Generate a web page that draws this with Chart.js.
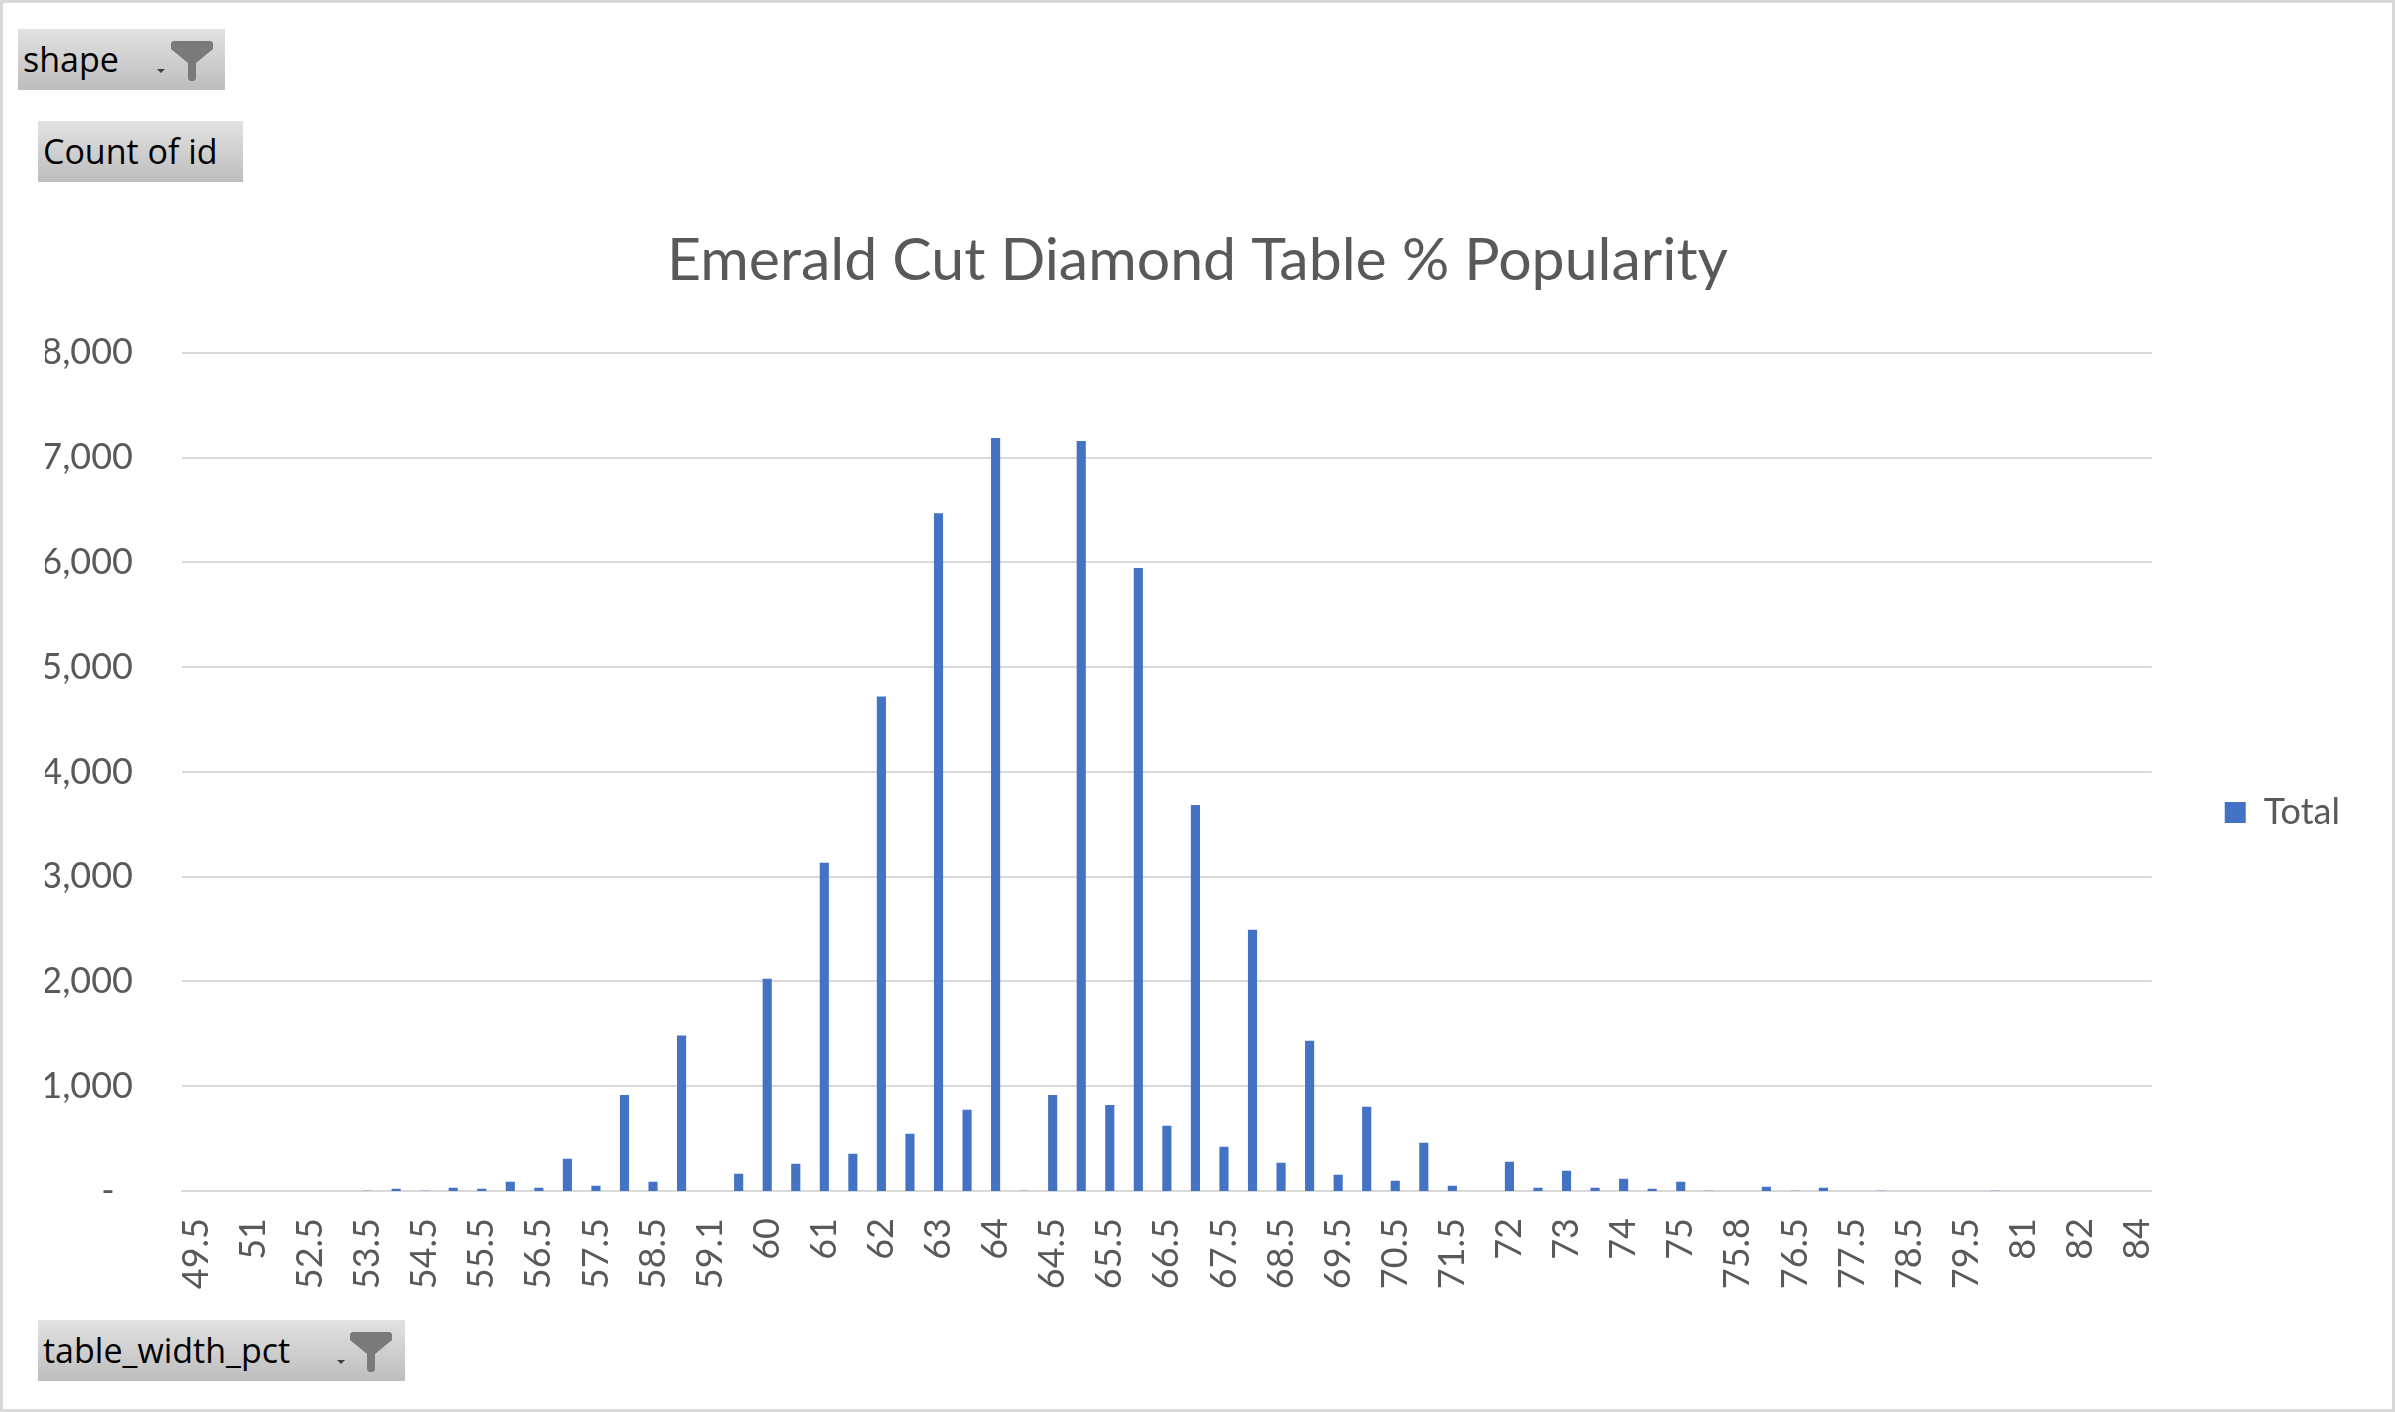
<!DOCTYPE html>
<html>
<head>
<meta charset="utf-8">
<title>Emerald Cut Diamond Table % Popularity</title>
<script src="https://cdn.jsdelivr.net/npm/chart.js@4.4.1/dist/chart.umd.min.js"></script>
<style>
    html, body { margin: 0; padding: 0; background: #fff; overflow: hidden; }
    .page { position: relative; width: 2395px; height: 1412px; }
    .chartBox { position: absolute; left: 0; top: 0; width: 2395px; height: 1412px; }
    .frame { position: absolute; left: 0; top: 0; width: 2395px; height: 1412px;
             box-sizing: border-box; border: 3px solid #d9d9d9; pointer-events: none; }
    .fieldBtn { position: absolute; height: 61px; line-height: 61px; box-sizing: border-box;
                padding-left: 5px; font-family: "Open Sans", sans-serif; font-size: 34px;
                color: #000; background: linear-gradient(#e2e2e2, #bdbdbd); white-space: nowrap; }
    .fieldBtn svg { position: absolute; }
</style>
</head>
<body>
<div class="page">
    <div class="chartBox"><canvas id="tableChart"></canvas></div>

    <div class="fieldBtn" style="left:18px; top:29px; width:207px;">shape
        <svg style="left:139px; top:40px;" width="10" height="6"><polygon points="0,0 8,0 4,4" fill="#404040"/></svg>
        <svg style="left:153px; top:12px;" width="42" height="40"><polygon points="0,2 2,0 40,0 42,2 42,8 25,22 25,38 23,40 19,40 17,38 17,22 0,8" fill="#7a7a7a"/></svg>
    </div>
    <div class="fieldBtn" style="left:38px; top:121px; width:205px;">Count of id</div>
    <div class="fieldBtn" style="left:38px; top:1320px; width:367px;">table_width_pct
        <svg style="left:299px; top:40px;" width="10" height="6"><polygon points="0,0 8,0 4,4" fill="#404040"/></svg>
        <svg style="left:312px; top:12px;" width="42" height="40"><polygon points="0,2 2,0 40,0 42,2 42,8 25,22 25,38 23,40 19,40 17,38 17,22 0,8" fill="#7a7a7a"/></svg>
    </div>

    <div class="frame"></div>
</div>

<script>
// table % values (pivot rows) and the count of ids in each one
const tableWidths = [
    '49.5', '50', '51', '52', '52.5', '53', '53.5', '54', '54.5', '55',
    '55.5', '56', '56.5', '57', '57.5', '58', '58.5', '59', '59.1', '59.5',
    '60', '60.5', '61', '61.5', '62', '62.5', '63', '63.5', '64', '64.2',
    '64.5', '65', '65.5', '66', '66.5', '67', '67.5', '68', '68.5', '69',
    '69.5', '70', '70.5', '71', '71.5', '71.8', '72', '72.5', '73', '73.5',
    '74', '74.5', '75', '75.5', '75.8', '76', '76.5', '77', '77.5', '78',
    '78.5', '79', '79.5', '80', '81', '81.5', '82', '83', '84'
];

const countOfId = [
    1, 1, 1, 1, 1, 1, 2, 22, 3, 32,
    22, 89, 32, 308, 51, 917, 89, 1485, 1, 165,
    2026, 260, 3132, 356, 4719, 546, 6468, 775, 7187, 2,
    917, 7158, 822, 5945, 622, 3685, 422, 2494, 270, 1434,
    156, 803, 98, 460, 51, 1, 279, 32, 194, 32,
    117, 22, 89, 3, 1, 41, 2, 32, 1, 2,
    1, 1, 1, 2, 1, 1, 1, 1, 1
];

const yTicks = [0, 1000, 2000, 3000, 4000, 5000, 6000, 7000, 8000];

const greyText = '#595959';
const gridGrey = '#d9d9d9';

const data = {
    labels: tableWidths,
    datasets: [{
        label: 'Total',
        data: countOfId,
        backgroundColor: '#4472c4',
        borderWidth: 0,
        barPercentage: 0.32,
        categoryPercentage: 1
    }]
};

const config = {
    type: 'bar',
    data: data,
    options: {
        responsive: true,
        maintainAspectRatio: false,
        devicePixelRatio: 1,
        animation: false,
        layout: {
            // same on both sides so the title stays centred on the page
            padding: { left: 45, right: 45, top: 0, bottom: 0 }
        },
        scales: {
            x: {
                z: 1, // axis line sits over the foot of the bars, like excel
                grid: { display: false, drawTicks: false },
                border: { display: true, color: gridGrey, width: 2 },
                ticks: {
                    autoSkip: false,
                    minRotation: 90,
                    maxRotation: 90,
                    padding: 27,
                    color: greyText,
                    font: { family: 'Lato', size: 36 },
                    // excel only prints every second row label
                    callback: (val, idx) => idx % 2 === 0 ? tableWidths[idx] : ''
                },
                afterFit: (scale) => { scale.height = 221; }
            },
            y: {
                min: yTicks[0],
                max: yTicks[yTicks.length - 1],
                afterBuildTicks: (scale) => { scale.ticks = yTicks.map(v => ({ value: v })); },
                grid: {
                    color: gridGrey,
                    // zero line is left to the x axis border
                    lineWidth: (ctx) => ctx.tick && ctx.tick.value === 0 ? 0 : 2,
                    drawTicks: false
                },
                border: { display: false },
                ticks: {
                    padding: 49,
                    color: greyText,
                    font: { family: 'Lato', size: 36 },
                    callback: (v) => v === 0 ? '-  ' : v.toLocaleString('en-US')
                },
                afterFit: (scale) => { scale.width = 137; }
            }
        },
        plugins: {
            title: {
                display: true,
                text: 'Emerald Cut Diamond Table % Popularity',
                color: greyText,
                font: { family: 'Lato', size: 59, weight: 'normal' },
                padding: { top: 226, bottom: 56 }
            },
            legend: {
                position: 'right',
                fullSize: false,
                // empty title only pushes the single entry down a bit
                title: { display: true, text: '', font: { size: 21 }, padding: 28 },
                labels: {
                    boxWidth: 21,
                    boxHeight: 21,
                    padding: 73,
                    color: greyText,
                    font: { family: 'Lato', size: 36 }
                }
            },
            tooltip: { enabled: false }
        }
    }
};

let tableChart = new Chart(document.getElementById('tableChart'), config);
</script>
</body>
</html>
